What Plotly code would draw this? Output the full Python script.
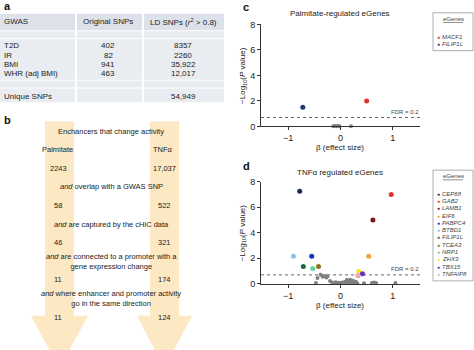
import plotly.graph_objects as go

W, H = 474, 350
FONT = "Liberation Sans, Arial, sans-serif"
TXT = "#222222"

# ---------------- data ----------------
# panel a: table
table_header = ["GWAS", "Original SNPs", "LD SNPs (<i>r</i><sup>2</sup> &gt; 0.8)"]
gwas = ["T2D", "IR", "BMI", "WHR (adj BMI)"]
orig_snps = ["402", "82", "941", "463"]
ld_snps = ["8357", "2260", "35,922", "12,017"]
unique_label = "Unique SNPs"
unique_snps = "54,949"

# panel b: flow
flow_steps = [
    "Enchancers that change activity",
    "<i>and</i> overlap with a GWAS SNP",
    "<i>and</i> are captured by the cHiC data",
    "<i>and</i> are connected to a promoter with a<br>gene expression change",
    "<i>and</i> where enhancer and promoter activity<br>go in the same direction",
]
flow_groups = ["Palmitate", "TNFα"]
palmitate_counts = ["2243", "58", "46", "11", "11"]
tnf_counts = ["17,037", "522", "321", "174", "124"]

# panel c
c_genes = ["MACF1", "FILIP1L"]
c_colors = ["#e3342b", "#1f3a78"]
c_beta = [0.50, -0.72]
c_logp = [2.0, 1.5]
c_grey_beta = [-0.14, -0.11, -0.08, -0.05, -0.02, 0.20]
c_grey_logp = [0.02, 0.03, 0.02, 0.03, 0.02, 0.02]

# panel d
d_genes = ["CEP68", "GAB2", "LAMB1", "EIF6", "PABPC4", "BTBD1",
           "FILIP1L", "TCEA3", "NRP1", "ZHX3", "TBX15", "TNFAIP8"]
d_colors = ["#1b2a55", "#e3342b", "#7a1414", "#f0a537", "#1233c4", "#86c3ee",
            "#1d6b3c", "#8c7422", "#66d39a", "#f2e324", "#6a2fc9", "#f3a6b8"]
d_beta = [-0.78, 0.97, 0.62, 0.54, -0.55, -0.90, -0.71, -0.42, -0.53, 0.35, 0.42, 0.33]
d_logp = [7.25, 7.0, 5.0, 2.16, 2.16, 2.16, 1.35, 1.35, 1.2, 0.97, 0.79, 0.66]
d_grey_beta = [-0.47, -0.44, -0.38, -0.34, -0.29, -0.27, -0.25, -0.20, -0.16, -0.12,
               -0.09, -0.06, -0.03, 0.00, 0.03, 0.06, 0.08, 0.10, 0.12, 0.14,
               0.16, 0.18, 0.20, 0.22, 0.24, 0.26, 0.28, 0.30, 0.32, 0.34,
               0.45, 0.60, 0.64, 0.68, 1.05]
d_grey_logp = [0.06, 0.46, 0.70, 0.55, 0.62, 0.50, 0.58, 0.22, 0.10, 0.06,
               0.12, 0.05, 0.08, 0.04, 0.10, 0.06, 0.14, 0.08, 0.30, 0.20,
               0.12, 0.32, 0.06, 0.26, 0.10, 0.20, 0.08, 0.14, 0.05, 0.60,
               0.05, 0.06, 0.10, 0.07, 0.06]

fdr_logp = 0.7
fdr_label = "FDR = 0.2"
x_range = [-1.52, 1.52]
y_range = [0, 8]
x_ticks = [-1, 0, 1]
x_ticktext = ["−1", "0", "1"]
y_ticks = [0, 2, 4, 6, 8]


def X(p):
    return p / W


def Y(p):
    return 1 - p / H


fig = go.Figure()
ann = []
shapes = []


def text(x, y, s, size=8, xanchor="center", yanchor="middle", color=TXT, bold=False, angle=0):
    if bold:
        s = "<b>" + s + "</b>"
    ann.append(dict(x=X(x), y=Y(y), xref="paper", yref="paper", text=s, showarrow=False,
                    xanchor=xanchor, yanchor=yanchor, textangle=angle,
                    font=dict(family=FONT, size=size, color=color), borderpad=0))


def rect(x0, y0, x1, y1, fill, line=None, lw=0):
    shapes.append(dict(type="rect", xref="paper", yref="paper", x0=X(x0), x1=X(x1),
                       y0=Y(y1), y1=Y(y0), fillcolor=fill,
                       line=dict(width=lw, color=line or fill), layer="below"))


# ---------------- panel a ----------------
cols = [(0, 75), (77, 142), (144, 224)]
rows = [(9, 26), (27, 34), (35, 77), (78, 85), (86, 100)]
for ri, (r0, r1) in enumerate(rows):
    for (c0, c1) in cols:
        rect(c0, r0, c1, r1, "#dde2ea" if ri == 0 else "#e9ecf1")

text(3, 17, table_header[0], xanchor="left")
text(108, 17, table_header[1])
text(183, 17, table_header[2])
row_y = [41.5, 51.5, 61, 70.5]
for i, g in enumerate(gwas):
    text(3, row_y[i], g, xanchor="left")
    text(108, row_y[i], orig_snps[i])
    text(183, row_y[i], ld_snps[i])
text(3, 94, unique_label, xanchor="left")
text(183, 94, unique_snps)
text(3, 1, "a", size=11, xanchor="left", bold=True, color="#111")

# ---------------- panel b ----------------
arrow_col = "#fde8c4"
for cx, sh, hh in [(59.5, 14.5, 28.5), (164.5, 14.5, 27.5)]:
    path = (f"M {X(cx - sh)},{Y(120)} L {X(cx + sh)},{Y(120)} L {X(cx + sh)},{Y(320)} "
            f"L {X(cx + hh)},{Y(320)} L {X(cx)},{Y(374)} L {X(cx - hh)},{Y(320)} "
            f"L {X(cx - sh)},{Y(320)} Z")
    shapes.append(dict(type="path", xref="paper", yref="paper", path=path,
                       fillcolor=arrow_col, line=dict(width=0), layer="below"))

text(3, 118, "b", size=11, xanchor="left", bold=True, color="#111")
step_y = [130, 187, 226, 264, 302.5]
count_y = [168, 206, 244, 283, 322]
for i, s in enumerate(flow_steps):
    text(111, step_y[i], s, size=7.5)
    text(58, count_y[i], palmitate_counts[i], size=7.5)
    text(164, count_y[i], tnf_counts[i], size=7.5)
text(57, 149, flow_groups[0], size=7.5)
text(163, 149, flow_groups[1], size=7.5)

# ---------------- panels c, d ----------------
axis_common = dict(showgrid=False, zeroline=False, showline=True, linecolor="#333",
                   linewidth=1, ticks="outside", ticklen=3, tickcolor="#333",
                   tickfont=dict(family=FONT, size=9, color=TXT))
px0, px1 = 261, 420
fig.update_layout(
    xaxis=dict(domain=[X(px0), X(px1)], range=x_range, tickvals=x_ticks, ticktext=x_ticktext,
               anchor="y", **axis_common),
    yaxis=dict(domain=[Y(125), Y(20)], range=y_range, tickvals=y_ticks, anchor="x", **axis_common),
    xaxis2=dict(domain=[X(px0), X(px1)], range=x_range, tickvals=x_ticks, ticktext=x_ticktext,
                anchor="y2", **axis_common),
    yaxis2=dict(domain=[Y(287), Y(182)], range=y_range, tickvals=y_ticks, anchor="x2", **axis_common),
)

for xa, ya in [("x", "y"), ("x2", "y2")]:
    fig.add_trace(go.Scatter(x=x_range, y=[fdr_logp, fdr_logp], mode="lines", xaxis=xa, yaxis=ya,
                             line=dict(color="#666", width=1, dash="dot"), showlegend=False,
                             hoverinfo="skip"))
    ann.append(dict(x=x_range[1], y=fdr_logp + 0.12, xref=xa, yref=ya, text=fdr_label,
                    showarrow=False, xanchor="right", yanchor="bottom",
                    font=dict(family=FONT, size=6, color="#444"), borderpad=0))

fig.add_trace(go.Scatter(x=c_grey_beta, y=c_grey_logp, mode="markers", xaxis="x", yaxis="y",
                         marker=dict(size=4, color="#7f7f7f"), cliponaxis=False, showlegend=False))
for g, col, b, p in zip(c_genes, c_colors, c_beta, c_logp):
    fig.add_trace(go.Scatter(x=[b], y=[p], mode="markers", name=g, xaxis="x", yaxis="y",
                             marker=dict(size=5, color=col), cliponaxis=False, showlegend=False))

fig.add_trace(go.Scatter(x=d_grey_beta, y=d_grey_logp, mode="markers", xaxis="x2", yaxis="y2",
                         marker=dict(size=4, color="#7f7f7f"), cliponaxis=False, showlegend=False))
for g, col, b, p in zip(d_genes, d_colors, d_beta, d_logp):
    fig.add_trace(go.Scatter(x=[b], y=[p], mode="markers", name=g, xaxis="x2", yaxis="y2",
                             marker=dict(size=5, color=col), cliponaxis=False, showlegend=False))

# titles, axis titles, panel letters
text(340, 9, "Palmitate-regulated eGenes", size=8)
text(340, 172, "TNFα regulated eGenes", size=8)
ytitle = "−Log<sub>10</sub>(<i>P</i> value)"
text(243, 72, ytitle, size=8, angle=-90)
text(243, 234, ytitle, size=8, angle=-90)
text(340, 147, "β (effect size)", size=8)
text(340, 309, "β (effect size)", size=8)
text(242, 2, "c", size=11, xanchor="left", bold=True, color="#111")
text(242, 166, "d", size=11, xanchor="left", bold=True, color="#111")

# legends
def legend_box(y0, y1, genes, colors, ys):
    rect(433, y0, 473, y1, "white", line="#999", lw=0.8)
    text(453, y0 + 6, "eGenes", size=6, color="#444")
    shapes.append(dict(type="line", xref="paper", yref="paper", x0=X(443), x1=X(463),
                       y0=Y(y0 + 10), y1=Y(y0 + 10), line=dict(color="#444", width=0.6)))
    for g, c, yy in zip(genes, colors, ys):
        text(435.5, yy, "●", size=5, xanchor="left", color=c)
        text(440.5, yy, "<i>" + g + "</i>", size=6, xanchor="left", color="#444")


legend_box(8, 47, c_genes, c_colors, [33, 40])
legend_box(170, 284, d_genes, d_colors, [194.3 + 7.5 * i for i in range(len(d_genes))])

fig.update_layout(width=W, height=H, margin=dict(l=0, r=0, t=0, b=0),
                  paper_bgcolor="white", plot_bgcolor="white",
                  annotations=ann, shapes=shapes, showlegend=False,
                  font=dict(family=FONT, color=TXT))
fig.write_html("out.html")
